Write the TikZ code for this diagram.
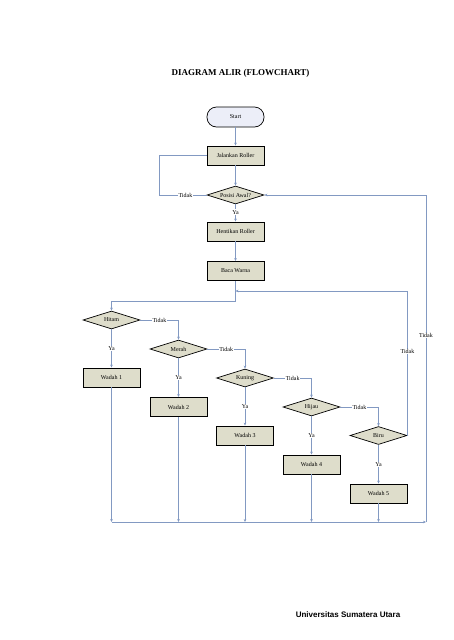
\documentclass[tikz,border=0pt]{standalone}
\usepackage{fontspec}
\setmainfont{Liberation Serif}
\newfontfamily\footfont{Liberation Sans}
\usetikzlibrary{shapes.geometric,arrows.meta}
\definecolor{boxfill}{HTML}{DEDDCB}
\definecolor{startfill}{HTML}{ECEEF8}
\definecolor{linec}{HTML}{8299C2}
\tikzset{
  procbox/.style={draw=black, line width=0.9pt, fill=boxfill, minimum width=57pt, minimum height=19pt, inner sep=0pt, font=\fontsize{6}{7}\selectfont},
  termbox/.style={draw=black, line width=0.7pt, fill=startfill, minimum width=57pt, minimum height=20pt, rounded corners=9.5pt, inner sep=0pt, font=\fontsize{6}{7}\selectfont},
  decbox/.style={diamond, draw=black, line width=0.7pt, fill=boxfill, minimum width=57pt, minimum height=18pt, inner sep=0pt, aspect=3.2, font=\fontsize{6}{7}\selectfont},
  conn/.style={draw=linec, line width=0.9pt},
  arr/.style={conn, -{Stealth[length=3pt,width=2.6pt]}},
  lbl/.style={fill=white, inner sep=0.6pt, font=\fontsize{6}{7}\selectfont},
}
\begin{document}
\begin{tikzpicture}[x=1pt,y=-1pt]
\useasboundingbox (0,0) rectangle (453,640);
\node[font=\fontsize{9}{10}\bfseries] (title) at (240.5,73) {DIAGRAM ALIR (FLOWCHART)};
\node[termbox] (start) at (235.5,117) {Start};
\node[procbox] (jalan) at (235.5,155.5) {Jalankan Roller};
\node[decbox] (posisi) at (235.5,195) {\makebox[0pt]{Posisi Awal?}};
\node[procbox] (henti) at (235.5,231.5) {Hentikan Roller};
\node[procbox] (baca) at (235.5,271) {Baca Warna};
\node[decbox] (hitam) at (111.5,320) {\makebox[0pt]{Hitam}};
\node[decbox] (merah) at (178.5,349) {\makebox[0pt]{Merah}};
\node[decbox] (kuning) at (245,378) {\makebox[0pt]{Kuning}};
\node[decbox] (hijau) at (311.5,407) {\makebox[0pt]{Hijau}};
\node[decbox] (biru) at (378.5,435.5) {\makebox[0pt]{Biru}};
\node[procbox] (w1) at (111.5,377.5) {Wadah 1};
\node[procbox] (w2) at (178.5,407) {Wadah 2};
\node[procbox] (w3) at (245,435.5) {Wadah 3};
\node[procbox] (w4) at (311.5,464.5) {Wadah 4};
\node[procbox] (w5) at (378.5,493.5) {Wadah 5};
\node[font=\footfont\bfseries\fontsize{8}{9}\selectfont] (foot) at (348,615) {Universitas Sumatera Utara};
\coordinate (c1) at (159.5,195);
\coordinate (c2) at (235.5,301);
\coordinate (j1) at (235.5,291);
\coordinate (rb) at (407.5,291);
\coordinate (r2) at (426,195);
\coordinate (b0) at (111.5,522);
\coordinate (b1) at (178.5,522);
\coordinate (b2) at (245,522);
\coordinate (b3) at (311.5,522);
\coordinate (b4) at (378.5,522);
\coordinate (bend) at (426,522);
% main chain
\draw[arr] (start) -- (jalan);
\draw[arr] (jalan) -- (posisi);
\draw[conn] (posisi.west) -- node[lbl, pos=0.45] {Tidak} (c1) |- (jalan.west);
\draw[arr] (posisi.south) -- node[lbl, pos=0.45] {Ya} (henti.north);
\draw[arr] (henti) -- (baca);
\draw[conn] (baca.south) -- (c2);
\draw[arr] (c2) -| (hitam.north);
% decisions
\draw[arr] (hitam.east) -| node[lbl, pos=0.25] {Tidak} (merah.north);
\draw[arr] (merah.east) -| node[lbl, pos=0.25] {Tidak} (kuning.north);
\draw[arr] (kuning.east) -| node[lbl, pos=0.25] {Tidak} (hijau.north);
\draw[arr] (hijau.east) -| node[lbl, pos=0.25] {Tidak} (biru.north);
\draw[arr] (hitam.south) -- node[lbl] {Ya} (w1.north);
\draw[arr] (merah.south) -- node[lbl] {Ya} (w2.north);
\draw[arr] (kuning.south) -- node[lbl] {Ya} (w3.north);
\draw[arr] (hijau.south) -- node[lbl] {Ya} (w4.north);
\draw[arr] (biru.south) -- node[lbl] {Ya} (w5.north);
% loop back from Biru
\draw[conn] (biru.east) -- (407.5,435.5) -- node[lbl, pos=0.58] {Tidak} (rb);
\draw[arr] (rb) -- (j1);
% to bottom collector
\draw[arr] (w1.south) -- (b0);
\draw[arr] (w2.south) -- (b1);
\draw[arr] (w3.south) -- (b2);
\draw[arr] (w4.south) -- (b3);
\draw[arr] (w5.south) -- (b4);
\draw[arr] (b0) -- (bend);
\draw[conn] (bend) -- node[lbl, pos=0.57] {Tidak} (r2);
\draw[arr] (r2) -- (posisi.east);
\end{tikzpicture}
\end{document}
